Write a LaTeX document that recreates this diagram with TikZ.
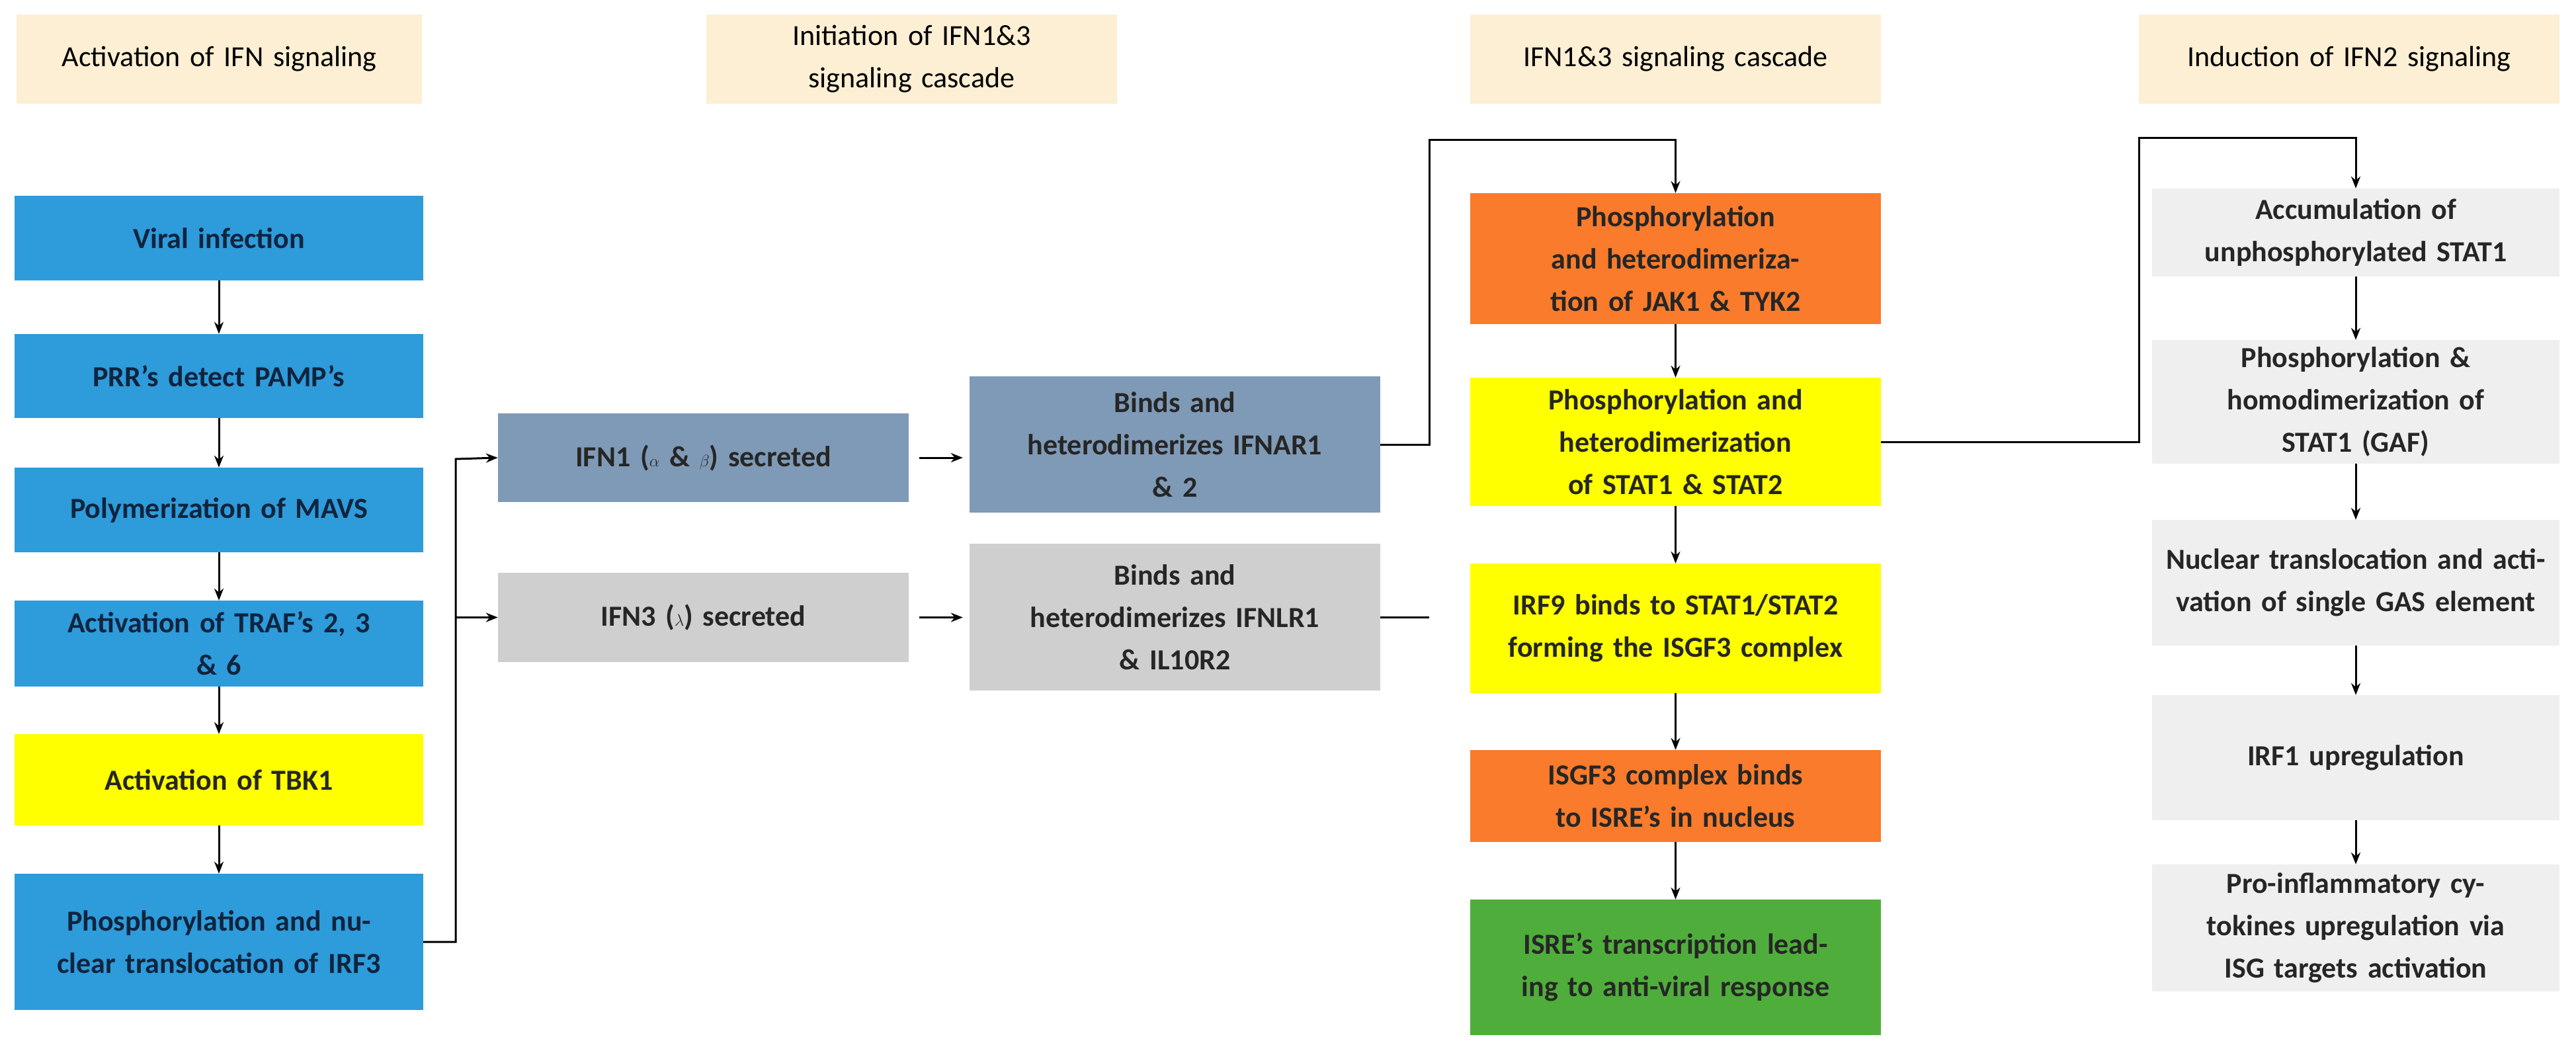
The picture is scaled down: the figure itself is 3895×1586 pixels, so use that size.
\documentclass[tikz,border=0pt]{standalone}
\usepackage{fontspec}
\setmainfont{Carlito}
\usetikzlibrary{arrows.meta,calc}
\definecolor{cblue}{HTML}{2E9BDA}
\definecolor{cslate}{HTML}{7F9AB6}
\definecolor{cgrey}{HTML}{CFCFCF}
\definecolor{corange}{HTML}{F97B2B}
\definecolor{cyellow}{HTML}{FFFF00}
\definecolor{cgreen}{HTML}{4FAE3B}
\definecolor{clight}{HTML}{EFEFEF}
\definecolor{chead}{HTML}{FDEFD3}
\definecolor{cnavy}{HTML}{10243E}
\newcommand{\bx}[7]{\node[#6,minimum width=#4pt-#2pt,minimum height=#5pt-#3pt,text width=#4pt-#2pt-30pt] (#1) at ({(#2+#4)/2},{-(#3+#5)/2}) {#7};}
\tikzset{
 x=1pt,y=1pt,
 base/.style={draw=none,inner sep=0pt,align=center,font=\fontsize{44}{64}\selectfont\bfseries},
 blue/.style={base,fill=cblue,text=cnavy},
 slate/.style={base,fill=cslate,text=black!85},
 grey/.style={base,fill=cgrey,text=black!85},
 orange/.style={base,fill=corange,text=black!85},
 yel/.style={base,fill=cyellow,text=black!85},
 green/.style={base,fill=cgreen,text=black!85},
 light/.style={base,fill=clight,text=black!85},
 head/.style={base,fill=chead,text=black,font=\fontsize{44}{64}\selectfont},
 arr/.style={-{Stealth[length=18pt,width=14pt]},line width=3pt},
 ln/.style={line width=3pt}
}
\begin{document}
\begin{tikzpicture}
\useasboundingbox[fill=white] (0,0) rectangle (3895,-1586);
\bx{h1}{25}{22}{638}{157}{head}{Activation of IFN signaling}
\bx{h2}{1068}{22}{1689}{157}{head}{Initiation of IFN1\&3\\signaling cascade}
\bx{h3}{2223}{22}{2844}{157}{head}{IFN1\&3 signaling cascade}
\bx{h4}{3234}{22}{3870}{157}{head}{Induction of IFN2 signaling}
% column 1
\bx{viral}{22}{296}{640}{424}{blue}{Viral infection}
\bx{prr}{22}{505}{640}{632}{blue}{PRR’s detect PAMP’s}
\bx{mavs}{22}{707}{640}{835}{blue}{Polymerization of MAVS}
\bx{traf}{22}{908}{640}{1038}{blue}{Activation of TRAF’s 2, 3\\\& 6}
\bx{tbk}{22}{1110}{640}{1248}{yel}{Activation of TBK1}
\bx{irf3}{22}{1321}{640}{1527}{blue}{Phosphorylation and nuclear translocation of IRF3}
% column 2
\bx{ifn1}{753}{625}{1374}{759}{slate}{IFN1 ($\alpha$ \& $\beta$) secreted}
\bx{ifn3}{753}{866}{1374}{1001}{grey}{IFN3 ($\lambda$) secreted}
\bx{b1}{1466}{569}{2087}{775}{slate}{Binds and\\heterodimerizes IFNAR1\\\& 2}
\bx{b2}{1466}{822}{2087}{1044}{grey}{Binds and\\heterodimerizes IFNLR1\\\& IL10R2}
% column 3
\bx{jak}{2223}{292}{2844}{490}{orange}{Phosphorylation and heterodimerization of JAK1 \& TYK2}
\bx{stat}{2223}{571}{2844}{765}{yel}{Phosphorylation and heterodimerization of STAT1 \& STAT2}
\bx{irf9}{2223}{852}{2844}{1048}{yel}{IRF9 binds to STAT1/STAT2 forming the ISGF3 complex}
\bx{isgf}{2223}{1134}{2844}{1273}{orange}{ISGF3 complex binds to ISRE’s in nucleus}
\bx{isre}{2223}{1360}{2844}{1565}{green}{ISRE’s transcription leading to anti-viral response}
% column 4
\bx{acc}{3254}{285}{3870}{418}{light}{Accumulation of\\unphosphorylated STAT1}
\bx{phh}{3254}{514}{3870}{701}{light}{Phosphorylation \&\\homodimerization of\\STAT1 (GAF)}
\bx{nuc}{3254}{786}{3870}{976}{light}{Nuclear translocation and activation of single GAS element}
\bx{irf1}{3254}{1051}{3870}{1240}{light}{IRF1 upregulation}
\bx{pro}{3254}{1307}{3870}{1499}{light}{Pro-inflammatory cytokines upregulation via ISG targets activation}
% arrows col1
\draw[arr] (viral) -- (prr);
\draw[arr] (prr) -- (mavs);
\draw[arr] (mavs) -- (traf);
\draw[arr] (traf) -- (tbk);
\draw[arr] (tbk) -- (irf3);
\coordinate (j2) at (689,-694);
\draw[arr] (irf3.east) -| (j2) -- (ifn1.west);
\draw[arr] (j2 |- ifn3.west) -- (ifn3.west);
\draw[arr] ($(ifn1.east)+(16,0)$) -- ($(b1.west |- ifn1.east)+(-10,0)$);
\draw[arr] ($(ifn3.east)+(16,0)$) -- ($(b2.west |- ifn3.east)+(-10,0)$);
\coordinate (j1) at (2161,-212);
\draw[arr] (b1.east) -| (j1) -| (jak.north);
\draw[ln] (b2.east) -- (b2.east -| j1);
\draw[arr] (jak) -- (stat);
\draw[arr] (stat) -- (irf9);
\draw[arr] (irf9) -- (isgf);
\draw[arr] (isgf) -- (isre);
\coordinate (j3) at (3234,-209);
\draw[arr] (stat.east) -| (j3) -| (acc.north);
\draw[arr] (acc) -- (phh);
\draw[arr] (phh) -- (nuc);
\draw[arr] (nuc) -- (irf1);
\draw[arr] (irf1) -- (pro);
\end{tikzpicture}
\end{document}
